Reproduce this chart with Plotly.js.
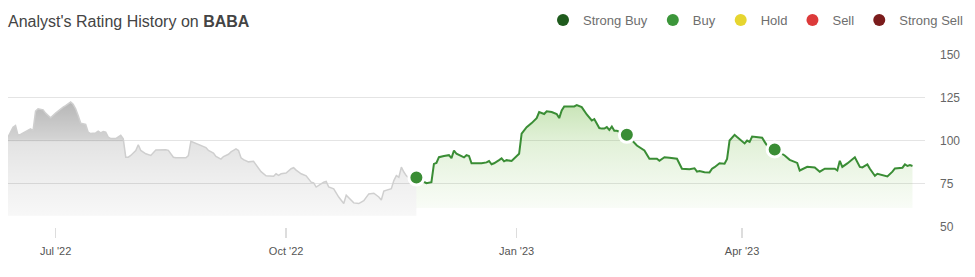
<!DOCTYPE html>
<html>
<head>
<meta charset="utf-8">
<script src="https://cdn.plot.ly/plotly-3.0.1.min.js"></script>
<style>
  html, body { margin: 0; padding: 0; background: #ffffff; }
  #chart { width: 975px; height: 277px; }
</style>
</head>
<body>
<div id="chart"></div>
<script>
// ---- Data ----
const grayDates = ["2022-06-12","2022-06-14","2022-06-15","2022-06-16","2022-06-17","2022-06-19","2022-06-21","2022-06-22","2022-06-23","2022-06-24","2022-06-26","2022-06-27","2022-06-29","2022-07-01","2022-07-03","2022-07-04","2022-07-05","2022-07-07","2022-07-08","2022-07-09","2022-07-10","2022-07-11","2022-07-13","2022-07-14","2022-07-15","2022-07-17","2022-07-18","2022-07-19","2022-07-20","2022-07-21","2022-07-22","2022-07-23","2022-07-25","2022-07-26","2022-07-27","2022-07-28","2022-07-29","2022-07-30","2022-07-31","2022-08-02","2022-08-03","2022-08-04","2022-08-06","2022-08-08","2022-08-10","2022-08-14","2022-08-15","2022-08-17","2022-08-18","2022-08-22","2022-08-23","2022-08-24","2022-08-26","2022-08-28","2022-08-30","2022-08-31","2022-09-02","2022-09-03","2022-09-05","2022-09-06","2022-09-08","2022-09-09","2022-09-11","2022-09-12","2022-09-13","2022-09-14","2022-09-16","2022-09-18","2022-09-19","2022-09-21","2022-09-23","2022-09-26","2022-09-27","2022-09-28","2022-09-29","2022-10-01","2022-10-03","2022-10-04","2022-10-05","2022-10-07","2022-10-09","2022-10-11","2022-10-12","2022-10-13","2022-10-16","2022-10-17","2022-10-18","2022-10-20","2022-10-22","2022-10-24","2022-10-25","2022-10-28","2022-10-30","2022-10-31","2022-11-01","2022-11-03","2022-11-05","2022-11-07","2022-11-08","2022-11-09","2022-11-11","2022-11-12","2022-11-13","2022-11-14","2022-11-15","2022-11-16","2022-11-17","2022-11-18","2022-11-20","2022-11-22"];
const grayValues = [102,107.7,108.7,103,103.5,105.4,106.8,105.8,117,118.4,117.8,115.9,113.2,115.9,118.4,119.4,120.3,122.3,121,118.4,114.5,110.1,109.3,104.8,104,104.4,105.4,104.4,105.2,104.8,102,101.1,101.1,102,103,101,90.3,90.3,91.3,94.2,97.5,94.2,92.3,91.3,94.5,94.6,94.3,90.3,90,90,91.3,99.6,98.5,97.1,95.9,94.2,92.7,90.7,89.2,90.7,92,93.4,95.1,94.2,90,88.9,87.6,87.9,85.7,81.9,79.5,79.2,80.7,79.8,80.7,81.1,83.6,84.2,82.8,80.7,79.5,75.8,75.4,73,75.8,76.3,73,71.9,67.2,63.4,68.2,63.8,63.4,64.5,65.1,69,69.4,67.2,65.5,70.7,71.5,72,76.7,79.6,78.7,84.5,81.7,79.5,76.7,78.5];

const greenDates = ["2022-11-22","2022-11-26","2022-11-28","2022-11-29","2022-11-30","2022-12-01","2022-12-03","2022-12-05","2022-12-06","2022-12-07","2022-12-08","2022-12-09","2022-12-11","2022-12-12","2022-12-13","2022-12-14","2022-12-16","2022-12-18","2022-12-20","2022-12-21","2022-12-22","2022-12-23","2022-12-25","2022-12-26","2022-12-27","2022-12-28","2022-12-30","2022-12-31","2023-01-02","2023-01-03","2023-01-04","2023-01-05","2023-01-07","2023-01-08","2023-01-09","2023-01-10","2023-01-11","2023-01-12","2023-01-13","2023-01-15","2023-01-17","2023-01-18","2023-01-19","2023-01-20","2023-01-22","2023-01-24","2023-01-25","2023-01-27","2023-01-29","2023-01-31","2023-02-01","2023-02-02","2023-02-03","2023-02-04","2023-02-05","2023-02-06","2023-02-07","2023-02-08","2023-02-09","2023-02-10","2023-02-14","2023-02-18","2023-02-21","2023-02-23","2023-02-26","2023-02-27","2023-03-01","2023-03-03","2023-03-06","2023-03-08","2023-03-11","2023-03-13","2023-03-14","2023-03-15","2023-03-17","2023-03-19","2023-03-20","2023-03-21","2023-03-23","2023-03-25","2023-03-26","2023-03-27","2023-03-29","2023-03-30","2023-04-01","2023-04-02","2023-04-03","2023-04-04","2023-04-05","2023-04-07","2023-04-09","2023-04-10","2023-04-11","2023-04-14","2023-04-18","2023-04-20","2023-04-23","2023-04-24","2023-04-27","2023-04-30","2023-05-02","2023-05-04","2023-05-08","2023-05-09","2023-05-10","2023-05-11","2023-05-13","2023-05-16","2023-05-18","2023-05-19","2023-05-21","2023-05-22","2023-05-24","2023-05-25","2023-05-27","2023-05-29","2023-05-31","2023-06-01","2023-06-04","2023-06-05","2023-06-06","2023-06-07","2023-06-08"];
const greenValues = [78.5,75.2,75.8,86.4,87,90.3,91,91.5,89.8,94.2,92.3,91.5,90.2,91.5,91,86.8,86.8,86.8,87.3,88.1,86.2,86.8,88.6,89.6,87.9,88.6,88.1,89.6,92.3,104,105.8,107.7,110.1,111.6,113,116.5,116,115.4,117,116.5,115.4,113,117.4,119.8,119.8,119.8,120.5,119.4,115.1,111.6,112.4,109.7,107.2,106.9,106.9,107.8,106.1,108.1,105.6,105.6,103.3,97.1,94.2,89.4,89.4,88.2,90.3,90,89.4,83.6,83.3,83.9,81.9,82.3,81.6,81.5,83.6,84.5,86.8,86.5,89.3,100,103.3,102,99.6,98.3,100,99.2,102.3,102,101.6,99.2,96.9,94.8,91.3,88.8,87,82.6,84.7,84.4,81.9,83.6,83.6,82.6,88.2,84.7,86.7,90.3,84.7,84.4,86.1,83.6,79.5,80.7,79.8,79.1,81.9,83.8,84.2,86.1,85.2,85.7,85.2];

const ratingDates = ["2022-11-22","2023-02-14","2023-04-14"];
const ratingValues = [78.5,103.3,94.8];

const legendLabels = ["Strong Buy","Buy","Hold","Sell","Strong Sell"];
const legendColors = ["#1f5b1d","#3c963a","#e6d52f","#dc3a3a","#7b1c1c"];

const tickDates = ["2022-07-01","2022-10-01","2023-01-01","2023-04-01"];
const tickLabels = ["Jul '22","Oct '22","Jan '23","Apr '23"];
const yTicks = [50,75,100,125,150];

// ---- Traces ----
const traces = [
  {
    x: grayDates, y: grayValues, type: "scatter", mode: "lines",
    line: { color: "#cfcfcf", width: 1.5 },
    fill: "tozeroy",
    fillgradient: {
      type: "vertical", start: 50, stop: 123,
      colorscale: [
        [0, "rgba(0,0,0,0)"], [0.085, "rgba(0,0,0,0)"],
        [0.09, "rgba(0,0,0,0.03)"], [0.34, "rgba(0,0,0,0.06)"],
        [0.67, "rgba(0,0,0,0.11)"], [0.7, "rgba(0,0,0,0.17)"],
        [1, "rgba(0,0,0,0.29)"]
      ]
    },
    showlegend: false, hoverinfo: "x+y"
  },
  {
    x: greenDates, y: greenValues, type: "scatter", mode: "lines",
    line: { color: "#3a8d35", width: 2 },
    fill: "tozeroy",
    fillgradient: {
      type: "vertical", start: 50, stop: 121,
      colorscale: [
        [0, "rgba(100,180,50,0)"], [0.15, "rgba(100,180,50,0)"],
        [0.155, "rgba(100,180,50,0.04)"], [0.35, "rgba(100,180,50,0.09)"],
        [0.7, "rgba(100,180,50,0.19)"], [1, "rgba(100,180,50,0.35)"]
      ]
    },
    showlegend: false, hoverinfo: "x+y"
  },
  {
    x: ratingDates, y: ratingValues, type: "scatter", mode: "markers",
    marker: { color: "#3a8d35", size: 15, line: { color: "#ffffff", width: 3 } },
    showlegend: false, name: "Buy"
  }
];
legendLabels.forEach((lab, i) => {
  traces.push({
    x: [null], y: [null], type: "scatter", mode: "markers", name: lab,
    marker: { color: legendColors[i], size: 12 }, showlegend: true
  });
});

const layout = {
  width: 975, height: 277,
  margin: { l: 8, r: 50, t: 54, b: 50, autoexpand: false },
  paper_bgcolor: "#ffffff", plot_bgcolor: "#ffffff",
  font: { family: "Liberation Sans, Arial, sans-serif", color: "#666666" },
  title: {
    text: "Analyst's Rating History on <b>BABA</b>",
    x: 8 / 975, xanchor: "left", xref: "container",
    y: 1 - 21 / 277, yanchor: "middle", yref: "container",
    font: { size: 16, color: "#444444", family: "Liberation Sans, Arial, sans-serif" }
  },
  showlegend: true,
  legend: {
    orientation: "h", xref: "container", x: 968 / 975, xanchor: "right",
    yref: "container", y: 1 - 20 / 277, yanchor: "middle",
    font: { size: 13, color: "#6e6e6e" }, itemwidth: 30,
    bgcolor: "rgba(0,0,0,0)", traceorder: "normal"
  },
  xaxis: {
    type: "date", range: ["2022-06-12", "2023-06-13"],
    tickvals: tickDates, ticktext: tickLabels,
    ticks: "outside", ticklen: 10, tickwidth: 1.5, tickcolor: "#dddddd",
    showgrid: false, zeroline: false, showline: false,
    tickfont: { size: 11, color: "#555555" }, ticklabelstandoff: 4,
    fixedrange: true
  },
  yaxis: {
    side: "right", range: [49.8, 150.2], tickvals: yTicks,
    showgrid: true, gridcolor: "#e4e4e4", gridwidth: 1.5,
    zeroline: false, showline: false, ticks: "",
    tickfont: { size: 12, color: "#666666" }, ticklabelstandoff: 14,
    fixedrange: true
  },
  hovermode: "closest"
};

Plotly.newPlot("chart", traces, layout, { displayModeBar: false, staticPlot: true });
</script>
</body>
</html>
